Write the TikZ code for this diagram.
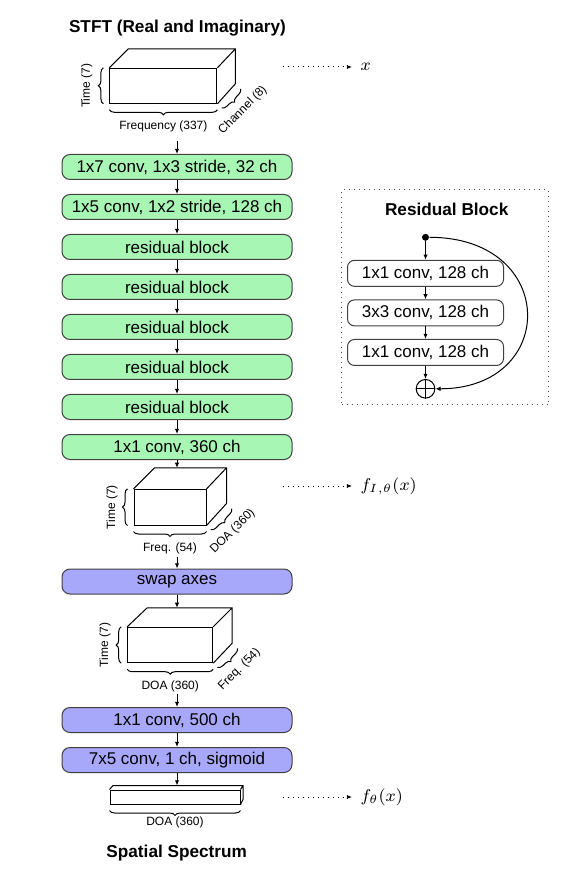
\RequirePackage{fix-cm}
\documentclass[tikz,border=0pt]{standalone}
\usepackage[no-math]{fontspec}
\setmainfont{Liberation Sans}
\usepackage{tikz}
\usetikzlibrary{arrows.meta,positioning,calc}
\usetikzlibrary{decorations.pathreplacing}

\definecolor{layergreen}{RGB}{168,246,180}
\definecolor{layerblue}{RGB}{168,168,250}

\tikzset{
  layer/.style={draw=black!75, rounded corners=4pt, minimum width=115pt, minimum height=12.5pt, inner sep=0pt, font=\fontsize{8.5}{10}\selectfont},
  conv/.style={layer, fill=layergreen},
  post/.style={layer, fill=layerblue},
  resconv/.style={draw=black!75, fill=white, rounded corners=3.5pt, minimum width=78pt, minimum height=13pt, inner sep=0pt, font=\fontsize{8.5}{10}\selectfont},
  face/.style={draw, fill=white, inner sep=0pt},
  dims/.style={inner sep=0pt, font=\fontsize{6}{7}\selectfont},
  brc/.style={decorate, decoration={brace, amplitude=2.5pt}},
  arr/.style={-{Latex[length=2.6pt,width=2.2pt]}},
  dotarr/.style={dotted, -{Latex[length=2.6pt,width=2.2pt]}, shorten >=4pt},
  outlbl/.style={anchor=west, inner sep=0pt, font=\fontsize{8.5}{10}\selectfont},
  heading/.style={font=\bfseries\fontsize{8.6}{10}\selectfont},
}

\begin{document}
\begin{tikzpicture}[x=0.5pt, y=0.5pt, line width=0.5pt]
  \useasboundingbox (0,0) rectangle (565,-870);

  \node[heading] (top) at (177.5,-28) {STFT (Real and Imaginary)};

  % input tensor
  \node[face, minimum width=53.5pt, minimum height=17.5pt] (c1) at (163.4,-85.8) {};
  \coordinate (c1b) at ($(c1.north west)+(19,19)$);
  \draw (c1.north west) -- (c1b) -- ++(107,0) coordinate (c1r) -- ++(0,-35) -- (c1.south east)
        (c1.north east) -- (c1r);
  \draw[brc] ([xshift=-3pt]c1.south west) -- ([xshift=-3pt]c1.north west);
  \draw[brc] ([yshift=-3pt]c1.south east) -- ([yshift=-3pt]c1.south west);
  \draw[brc] ($(c1.south east)+(23.2,14.8)$) -- ($(c1.south east)+(4.2,-4.2)$);
  \node[dims, rotate=90, anchor=south] (c1t) at ([xshift=-8.25pt]c1.west) {Time (7)};
  \node[dims, below=8.5pt of c1.south] (c1f) {Frequency (337)};
  \node[dims, rotate=45] (c1c) at ($(c1.south east)+(25.5,-6.5)$) {Channel (8)};

  % encoder
  \node[conv] (b1) at (177,-167) {1x7 conv, 1x3 stride, 32 ch};
  \node[conv, below=7pt of b1] (b2) {1x5 conv, 1x2 stride, 128 ch};
  \node[conv, below=7pt of b2] (b3) {residual block};
  \node[conv, below=7pt of b3] (b4) {residual block};
  \node[conv, below=7pt of b4] (b5) {residual block};
  \node[conv, below=7pt of b5] (b6) {residual block};
  \node[conv, below=7pt of b6] (b7) {residual block};
  \node[conv, below=7pt of b7] (b8) {1x1 conv, 360 ch};

  \draw[arr, shorten <=4pt] (c1f.south -| b1.north) -- (b1.north);
  \path[arr]
  (b1) edge (b2)
  (b2) edge (b3)
  (b3) edge (b4)
  (b4) edge (b5)
  (b5) edge (b6)
  (b6) edge (b7)
  (b7) edge (b8)
  ;

  % feature tensor
  \node[face, minimum width=36pt, minimum height=17.8pt] (c2) at (170,-507.2) {};
  \coordinate (c2b) at ($(c2.north west)+(21,21)$);
  \draw (c2.north west) -- (c2b) -- ++(72,0) coordinate (c2r) -- ++(0,-35.6) -- (c2.south east)
        (c2.north east) -- (c2r);
  \draw[brc] ([xshift=-3pt]c2.south west) -- ([xshift=-3pt]c2.north west);
  \draw[brc] ([yshift=-3pt]c2.south east) -- ([yshift=-3pt]c2.south west);
  \draw[brc] ($(c2.south east)+(25.2,16.8)$) -- ($(c2.south east)+(4.2,-4.2)$);
  \node[dims, rotate=90, anchor=south] (c2t) at ([xshift=-7.75pt]c2.west) {Time (7)};
  \node[dims, below=8.5pt of c2.south] (c2f) {Freq. (54)};
  \node[dims, rotate=45] (c2d) at ($(c2.south east)+(26.3,-5.8)$) {DOA (360)};
  \draw[arr] (b8.south) -- (b8.south |- c2b);

  \node[post] (sw) at (177,-581.5) {swap axes};
  \draw[arr, shorten <=1pt] (c2f.south -| sw.north) -- (sw.north);

  % swapped tensor
  \node[face, minimum width=42.5pt, minimum height=17.7pt] (c3) at (170.2,-645) {};
  \coordinate (c3b) at ($(c3.north west)+(20,19)$);
  \draw (c3.north west) -- (c3b) -- ++(85,0) coordinate (c3r) -- ++(0,-35.4) -- (c3.south east)
        (c3.north east) -- (c3r);
  \draw[brc] ([xshift=-3pt]c3.south west) -- ([xshift=-3pt]c3.north west);
  \draw[brc] ([yshift=-3pt]c3.south east) -- ([yshift=-3pt]c3.south west);
  \draw[brc] ($(c3.south east)+(24.2,14.8)$) -- ($(c3.south east)+(4.2,-4.2)$);
  \node[dims, rotate=90, anchor=south] (c3t) at ([xshift=-8pt]c3.west) {Time (7)};
  \node[dims, below=8.5pt of c3.south] (c3f) {DOA (360)};
  \node[dims, rotate=45] (c3d) at ($(c3.south east)+(26.3,-6.3)$) {Freq. (54)};
  \draw[arr] (sw.south) -- (sw.south |- c3b);

  % decoder
  \node[post] (c500) at (177,-720) {1x1 conv, 500 ch};
  \node[post, below=7pt of c500] (c7) {7x5 conv, 1 ch, sigmoid};
  \draw[arr, shorten <=1pt] (c3f.south -| c500.north) -- (c500.north);
  \path[arr] (c500) edge (c7);

  % output spectrum
  \node[face, minimum width=65pt, minimum height=7pt] (c4) at (175,-797) {};
  \coordinate (c4b) at ($(c4.north west)+(3.5,4)$);
  \draw (c4.north west) -- (c4b) -- ++(130,0) coordinate (c4r) -- ++(0,-14) -- (c4.south east)
        (c4.north east) -- (c4r);
  \draw[brc] ([yshift=-3pt]c4.south east) -- ([yshift=-3pt]c4.south west);
  \node[dims, below=6pt of c4.south] (c4f) {DOA (360)};
  \draw[arr] (c7.south) -- (c7.south |- c4b);

  \node[heading] (bottom) at (176.7,-853.3) {Spatial Spectrum};

  % outputs
  \coordinate (d1) at (283,-67);
  \coordinate (d2) at (283,-486);
  \coordinate (d3) at (283,-797);
  \node[outlbl] (ox) at (360,-67) {$x$};
  \node[outlbl] (ofi) at (360,-486) {$f_{I,\theta}(x)$};
  \node[outlbl] (oft) at (360,-797) {$f_{\theta}(x)$};
  \draw[dotarr] (d1) -- (ox);
  \draw[dotarr] (d2) -- (ofi);
  \draw[dotarr] (d3) -- (oft);

  % residual block detail
  \node[draw=black!70, dotted, minimum width=103.3pt, minimum height=107.5pt, inner sep=0pt] (rb) at (445,-297.5) {};
  \node[heading] (rbt) at (446.7,-209) {Residual Block};
  \node[circle, fill, inner sep=0pt, minimum size=3.5pt] (in) at (425.5,-237.3) {};
  \node[resconv] (r1) at (425.5,-273.3) {1x1 conv, 128 ch};
  \node[resconv, below=6.3pt of r1] (r2) {3x3 conv, 128 ch};
  \node[resconv, below=6.3pt of r2] (r3) {1x1 conv, 128 ch};
  \node[draw, circle, inner sep=0pt, minimum size=9.3pt, below=6.5pt of r3] (add) {};
  \draw (add.north) -- (add.south) (add.west) -- (add.east);
  \path[arr]
  (in) edge (r1)
  (r1) edge (r2)
  (r2) edge (r3)
  (r3) edge (add)
  ;
  \draw[arr] (in) .. controls +(133,0) and +(133,0) .. (add);
\end{tikzpicture}
\end{document}
